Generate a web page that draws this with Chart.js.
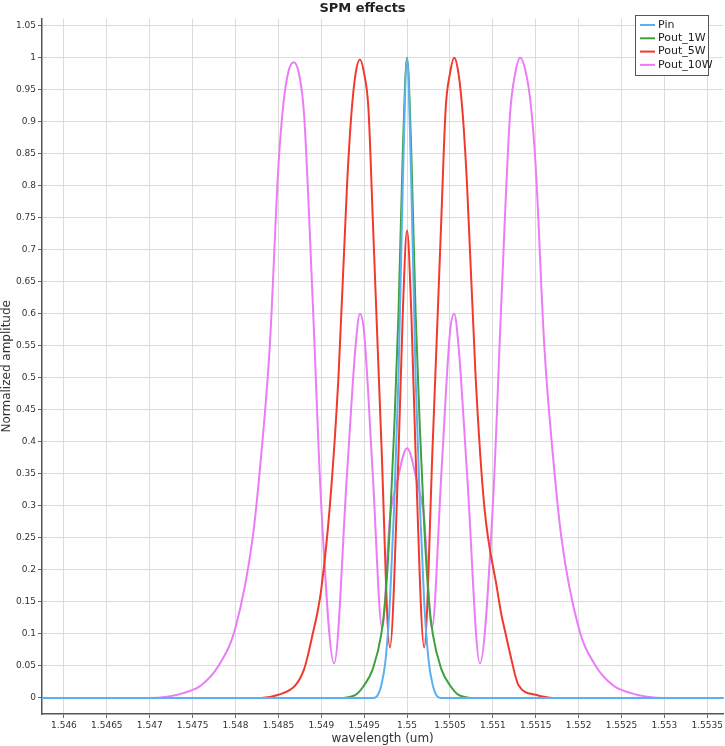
<!DOCTYPE html>
<html><head><meta charset="utf-8">
<script src="https://cdn.jsdelivr.net/npm/chart.js@4/dist/chart.umd.min.js"></script>
<style>html,body{margin:0;padding:0;background:#fff}#w{width:725px;height:746px}</style>
</head><body><div id="w"><canvas id="c"></canvas></div>
<script>
const seriesNames = ["Pin","Pout_1W","Pout_5W","Pout_10W"];
const pinX = [1.5457,1.5496,1.54965,1.5497,1.54975,1.5498,1.54985,1.5499,1.54995,1.55,1.55005,1.5501,1.55015,1.5502,1.55025,1.5503,1.55035,1.5504,1.5537];
const pinY = [0,0,0.003,0.02,0.06,0.15,0.3,0.5,0.8,1,0.8,0.5,0.3,0.15,0.06,0.02,0.003,0,0];
const w1X = [1.5457,1.5492,1.5494,1.5495,1.5496,1.5497,1.54975,1.5498,1.54985,1.5499,1.54995,1.55,1.55005,1.5501,1.55015,1.5502,1.55025,1.5503,1.5504,1.5505,1.5506,1.5508,1.5537];
const w1Y = [0,0,0.005,0.02,0.045,0.1,0.16,0.27,0.42,0.6,0.85,1,0.85,0.6,0.42,0.27,0.16,0.1,0.045,0.02,0.005,0,0];
const w5X = [1.5457,1.5483,1.5485,1.5487,1.5488,1.54885,1.5489,1.54895,1.549,1.5491,1.5492,1.5493,1.54935,1.5494,1.54945,1.5495,1.54955,1.5496,1.5497,1.5498,1.5499,1.54995,1.55,1.55005,1.5501,1.5502,1.5503,1.5504,1.55045,1.5505,1.55055,1.5506,1.55065,1.5507,1.5508,1.5509,1.55105,1.5511,1.55115,1.5512,1.5513,1.5515,1.5517,1.5537];
const w5Y = [0,0,0.005,0.02,0.045,0.07,0.1,0.13,0.17,0.3,0.5,0.8,0.91,0.975,0.997,0.975,0.92,0.75,0.4,0.079,0.38,0.6,0.73,0.6,0.38,0.079,0.4,0.75,0.92,0.975,1,0.975,0.91,0.8,0.5,0.3,0.17,0.13,0.1,0.07,0.02,0.005,0,0];
const w10X = [1.5457,1.547,1.5472,1.5474,1.5476,1.5478,1.548,1.5482,1.5483,1.5484,1.5485,1.54856,1.54862,1.54868,1.54874,1.5488,1.5489,1.549,1.54915,1.5493,1.5494,1.54945,1.5495,1.5496,1.54971,1.5498,1.54988,1.55,1.55012,1.5502,1.55029,1.5504,1.5505,1.55055,1.5506,1.5507,1.55085,1.551,1.5511,1.5512,1.55126,1.55132,1.55138,1.55144,1.5515,1.5516,1.5517,1.5518,1.552,1.5522,1.5524,1.5526,1.5528,1.553,1.5537];
const w10Y = [0,0,0.002,0.008,0.02,0.05,0.11,0.25,0.38,0.55,0.83,0.93,0.98,0.993,0.975,0.91,0.62,0.3,0.054,0.35,0.55,0.6,0.57,0.35,0.109,0.28,0.335,0.39,0.335,0.28,0.109,0.35,0.57,0.6,0.55,0.35,0.054,0.3,0.62,0.91,0.975,1,0.98,0.93,0.83,0.55,0.38,0.25,0.11,0.05,0.02,0.008,0.002,0,0];
const xTicks = [1.546,1.5465,1.547,1.5475,1.548,1.5485,1.549,1.5495,1.55,1.5505,1.551,1.5515,1.552,1.5525,1.553,1.5535];
const yTicks = [0,0.05,0.1,0.15,0.2,0.25,0.3,0.35,0.4,0.45,0.5,0.55,0.6,0.65,0.7,0.75,0.8,0.85,0.9,0.95,1,1.05];
const colors = ["#5ab0f2","#3ea03e","#f03a2c","#ea7cf6"];
const xs=[pinX,w1X,w5X,w10X], ys=[pinY,w1Y,w5Y,w10Y];
const datasets = seriesNames.map((n,i)=>({label:n,data:xs[i].map((x,j)=>({x:x,y:ys[i][j]})),borderColor:colors[i],backgroundColor:colors[i],borderWidth:2,pointRadius:0,cubicInterpolationMode:'monotone',fill:false}));
const legendBox={id:'lb',afterDraw(ch){const c=ch.ctx;c.save();const x0=635,y0=15,w=73,h=60;c.fillStyle='#fff';c.fillRect(x0,y0,w,h);c.strokeStyle='#555';c.lineWidth=1;c.strokeRect(x0+0.5,y0+0.5,w,h);c.font='11px "DejaVu Sans"';c.textBaseline='middle';ch.data.datasets.forEach((d,i)=>{const y=y0+10+i*13.3;c.strokeStyle=d.borderColor;c.lineWidth=2;c.beginPath();c.moveTo(x0+5,y);c.lineTo(x0+20,y);c.stroke();c.fillStyle='#222';c.fillText(d.label,x0+23,y);});c.restore();}};
const fmt=v=>String(parseFloat(v.toFixed(5)));
new Chart(document.getElementById('c'),{type:'line',data:{datasets},plugins:[legendBox],
options:{responsive:true,maintainAspectRatio:false,animation:false,layout:{padding:{left:0,right:0,top:0,bottom:0}},
plugins:{legend:{display:false},tooltip:{enabled:false},title:{display:true,text:'SPM effects',color:'#222',font:{family:'DejaVu Sans',size:13,weight:'bold'},padding:{top:1,bottom:2}}},
scales:{
x:{type:'linear',min:1.545744,max:1.553686,afterBuildTicks:s=>{s.ticks=xTicks.map(v=>({value:v}));},afterFit:s=>{s.height=32;},
ticks:{callback:v=>fmt(v),color:'#333',font:{family:'DejaVu Sans',size:9},maxRotation:0,autoSkip:false,padding:2},
grid:{color:'#dcdcdc',tickColor:'#666',tickLength:4},border:{color:'#555',width:1.5},
title:{display:true,text:'wavelength (um)',color:'#333',font:{family:'DejaVu Sans',size:12},padding:{top:0,bottom:0}}},
y:{type:'linear',min:-0.025,max:1.061,afterBuildTicks:s=>{s.ticks=yTicks.map(v=>({value:v}));},afterFit:s=>{s.width=42;},
ticks:{callback:v=>fmt(v),color:'#333',font:{family:'DejaVu Sans',size:9},autoSkip:false,padding:2},
grid:{color:'#dcdcdc',tickColor:'#666',tickLength:4},border:{color:'#555',width:1.5},
title:{display:true,text:'Normalized amplitude',color:'#333',font:{family:'DejaVu Sans',size:12},padding:{top:0,bottom:0}}}}}});
</script></body></html>
